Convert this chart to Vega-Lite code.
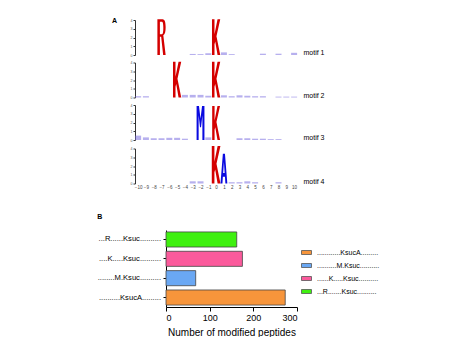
{
  "$schema": "https://vega.github.io/schema/vega-lite/v6.json",
  "padding": {"left": 96, "top": 17, "right": 0, "bottom": 0},
  "config": {"font": "Liberation Sans", "view": {"stroke": null}},
  "datasets": {
    "logo": [
      {"motif": "motif 1", "kind": "letter", "pos": -7, "bits": 4.1, "letter": "R"},
      {"motif": "motif 1", "kind": "letter", "pos": 0, "bits": 4.1, "letter": "K"},
      {"motif": "motif 1", "kind": "noise", "pos": -3, "bits": 0.12},
      {"motif": "motif 1", "kind": "noise", "pos": -2, "bits": 0.1},
      {"motif": "motif 1", "kind": "noise", "pos": -1, "bits": 0.2},
      {"motif": "motif 1", "kind": "noise", "pos": 1, "bits": 0.3},
      {"motif": "motif 1", "kind": "noise", "pos": 2, "bits": 0.1},
      {"motif": "motif 1", "kind": "noise", "pos": 6, "bits": 0.15},
      {"motif": "motif 1", "kind": "noise", "pos": 8, "bits": 0.15},
      {"motif": "motif 1", "kind": "noise", "pos": 10, "bits": 0.25},
      {"motif": "motif 1", "kind": "label", "pos": 11.2, "bits": 0},
      {"motif": "motif 2", "kind": "letter", "pos": -5, "bits": 4.1, "letter": "K"},
      {"motif": "motif 2", "kind": "letter", "pos": 0, "bits": 4.1, "letter": "K"},
      {"motif": "motif 2", "kind": "noise", "pos": -10, "bits": 0.15},
      {"motif": "motif 2", "kind": "noise", "pos": -9, "bits": 0.15},
      {"motif": "motif 2", "kind": "noise", "pos": -4, "bits": 0.3},
      {"motif": "motif 2", "kind": "noise", "pos": -3, "bits": 0.3},
      {"motif": "motif 2", "kind": "noise", "pos": -2, "bits": 0.3},
      {"motif": "motif 2", "kind": "noise", "pos": -1, "bits": 0.2},
      {"motif": "motif 2", "kind": "noise", "pos": 1, "bits": 0.25},
      {"motif": "motif 2", "kind": "noise", "pos": 2, "bits": 0.15},
      {"motif": "motif 2", "kind": "noise", "pos": 3, "bits": 0.25},
      {"motif": "motif 2", "kind": "noise", "pos": 4, "bits": 0.2},
      {"motif": "motif 2", "kind": "noise", "pos": 5, "bits": 0.15},
      {"motif": "motif 2", "kind": "noise", "pos": 6, "bits": 0.15},
      {"motif": "motif 2", "kind": "noise", "pos": 8, "bits": 0.1},
      {"motif": "motif 2", "kind": "noise", "pos": 9, "bits": 0.1},
      {"motif": "motif 2", "kind": "noise", "pos": 10, "bits": 0.1},
      {"motif": "motif 2", "kind": "label", "pos": 11.2, "bits": 0},
      {"motif": "motif 3", "kind": "letter", "pos": -2, "bits": 3.9, "letter": "M"},
      {"motif": "motif 3", "kind": "letter", "pos": 0, "bits": 3.9, "letter": "K"},
      {"motif": "motif 3", "kind": "noise", "pos": -10, "bits": 0.5},
      {"motif": "motif 3", "kind": "noise", "pos": -9, "bits": 0.3},
      {"motif": "motif 3", "kind": "noise", "pos": -8, "bits": 0.2},
      {"motif": "motif 3", "kind": "noise", "pos": -7, "bits": 0.2},
      {"motif": "motif 3", "kind": "noise", "pos": -6, "bits": 0.25},
      {"motif": "motif 3", "kind": "noise", "pos": -5, "bits": 0.25},
      {"motif": "motif 3", "kind": "noise", "pos": -4, "bits": 0.15},
      {"motif": "motif 3", "kind": "noise", "pos": -1, "bits": 0.3},
      {"motif": "motif 3", "kind": "noise", "pos": 3, "bits": 0.2},
      {"motif": "motif 3", "kind": "noise", "pos": 4, "bits": 0.2},
      {"motif": "motif 3", "kind": "noise", "pos": 5, "bits": 0.15},
      {"motif": "motif 3", "kind": "noise", "pos": 6, "bits": 0.15},
      {"motif": "motif 3", "kind": "noise", "pos": 7, "bits": 0.1},
      {"motif": "motif 3", "kind": "noise", "pos": 8, "bits": 0.1},
      {"motif": "motif 3", "kind": "label", "pos": 11.2, "bits": 0},
      {"motif": "motif 4", "kind": "letter", "pos": 0, "bits": 4.3, "letter": "K"},
      {"motif": "motif 4", "kind": "letter", "pos": 1, "bits": 3.4, "letter": "A"},
      {"motif": "motif 4", "kind": "noise", "pos": -3, "bits": 0.25},
      {"motif": "motif 4", "kind": "noise", "pos": -2, "bits": 0.25},
      {"motif": "motif 4", "kind": "noise", "pos": 2, "bits": 0.15},
      {"motif": "motif 4", "kind": "noise", "pos": 3, "bits": 0.15},
      {"motif": "motif 4", "kind": "noise", "pos": 4, "bits": 0.25},
      {"motif": "motif 4", "kind": "noise", "pos": 5, "bits": 0.15},
      {"motif": "motif 4", "kind": "noise", "pos": 8, "bits": 0.15},
      {"motif": "motif 4", "kind": "label", "pos": 11.2, "bits": 0}
    ],
    "bars": [
      {"label": "...R......Ksuc..........", "legend": "...R.......Ksuc..........", "count": 162},
      {"label": "....K.....Ksuc..........", "legend": "......K.....Ksuc..........", "count": 175},
      {"label": "........M.Ksuc..........", "legend": "..........M.Ksuc..........", "count": 68},
      {"label": "..........KsucA.........", "legend": "............KsucA.........", "count": 273}
    ]
  },
  "concat": [
    {
      "spacing": 3.5,
      "resolve": {"scale": {"color": "independent", "shape": "independent", "size": "independent"}},
      "vconcat": [
        {
          "title": {"text": "A", "anchor": "start", "frame": "group", "dx": 16, "offset": -6, "fontSize": 7, "fontWeight": "bold"},
          "width": 207, "height": 35,
          "data": {"name": "logo"},
          "transform": [{"filter": "datum.motif === 'motif 1'"}],
          "encoding": {
            "x": {"field": "pos", "type": "quantitative", "scale": {"domain": [-14.76, 10.5], "nice": false, "zero": false}, "axis": null},
            "y": {"field": "bits", "type": "quantitative", "scale": {"domain": [0, 4], "nice": false}, "axis": {"values": [0, 1, 2, 3, 4], "offset": -39, "title": null, "grid": false, "labelFontSize": 3.5, "labelColor": "#555", "tickSize": 2, "tickColor": "#333", "domainColor": "#333", "labelPadding": 1, "labelFlush": false, "labelOverlap": false}}
          },
          "layer": [
            {"transform": [{"filter": "datum.kind === 'noise'"}], "mark": {"type": "bar", "width": 6, "color": "#7b6fe0", "opacity": 0.55}},
            {"transform": [{"filter": "datum.kind === 'letter'"}], "mark": {"type": "point", "filled": true, "opacity": 1, "strokeWidth": 0},
             "encoding": {
               "y": {"datum": 0},
               "shape": {"field": "letter", "type": "nominal", "legend": null, "scale": {"domain": ["R", "K", "M", "A"], "range": ["M-0.23,0L-0.23,-2L0.06,-2C0.19,-2,0.23,-1.8,0.23,-1.55C0.23,-1.3,0.19,-1.15,0.1,-1.1L0.23,0L0.09,0L-0.02,-1.02L-0.09,-1.02L-0.09,0ZM-0.09,-1.86L-0.09,-1.16L0.03,-1.16C0.08,-1.16,0.1,-1.3,0.1,-1.51C0.1,-1.72,0.08,-1.86,0.03,-1.86Z", "M-0.23,0L-0.23,-2L-0.09,-2L-0.09,-1.15L0.08,-2L0.23,-2L0.02,-1.05L0.23,0L0.08,0L-0.05,-0.75L-0.09,-0.6L-0.09,0Z", "M-0.23,0L-0.23,-2L-0.09,-2L0,-1.25L0.09,-2L0.23,-2L0.23,0L0.11,0L0.11,-1.45L0.03,-0.75L-0.03,-0.75L-0.11,-1.45L-0.11,0Z", "M-0.23,0L-0.07,-2L0.07,-2L0.23,0L0.1,0L0.07,-0.45L-0.07,-0.45L-0.1,0ZM-0.05,-0.7L0.05,-0.7L0,-1.45Z"]}},
               "size": {"field": "bits", "type": "quantitative", "legend": null, "scale": {"type": "pow", "exponent": 2, "domain": [0, 4], "range": [0, 1225]}},
               "color": {"field": "letter", "type": "nominal", "legend": null, "scale": {"domain": ["R", "K", "M", "A"], "range": ["#d40000", "#d40000", "#0a0ae0", "#0a0ae0"]}}
             }},
            {"transform": [{"filter": "datum.kind === 'label'"}], "mark": {"type": "text", "align": "left", "baseline": "alphabetic", "fontSize": 7, "fill": "#000"},
             "encoding": {"text": {"field": "motif"}}}
          ]
        },
        {
          "width": 207, "height": 35,
          "data": {"name": "logo"},
          "transform": [{"filter": "datum.motif === 'motif 2'"}],
          "encoding": {
            "x": {"field": "pos", "type": "quantitative", "scale": {"domain": [-14.76, 10.5], "nice": false, "zero": false}, "axis": null},
            "y": {"field": "bits", "type": "quantitative", "scale": {"domain": [0, 4], "nice": false}, "axis": {"values": [0, 1, 2, 3, 4], "offset": -39, "title": null, "grid": false, "labelFontSize": 3.5, "labelColor": "#555", "tickSize": 2, "tickColor": "#333", "domainColor": "#333", "labelPadding": 1, "labelFlush": false, "labelOverlap": false}}
          },
          "layer": [
            {"transform": [{"filter": "datum.kind === 'noise'"}], "mark": {"type": "bar", "width": 6, "color": "#7b6fe0", "opacity": 0.55}},
            {"transform": [{"filter": "datum.kind === 'letter'"}], "mark": {"type": "point", "filled": true, "opacity": 1, "strokeWidth": 0},
             "encoding": {
               "y": {"datum": 0},
               "shape": {"field": "letter", "type": "nominal", "legend": null, "scale": {"domain": ["R", "K", "M", "A"], "range": ["M-0.23,0L-0.23,-2L0.06,-2C0.19,-2,0.23,-1.8,0.23,-1.55C0.23,-1.3,0.19,-1.15,0.1,-1.1L0.23,0L0.09,0L-0.02,-1.02L-0.09,-1.02L-0.09,0ZM-0.09,-1.86L-0.09,-1.16L0.03,-1.16C0.08,-1.16,0.1,-1.3,0.1,-1.51C0.1,-1.72,0.08,-1.86,0.03,-1.86Z", "M-0.23,0L-0.23,-2L-0.09,-2L-0.09,-1.15L0.08,-2L0.23,-2L0.02,-1.05L0.23,0L0.08,0L-0.05,-0.75L-0.09,-0.6L-0.09,0Z", "M-0.23,0L-0.23,-2L-0.09,-2L0,-1.25L0.09,-2L0.23,-2L0.23,0L0.11,0L0.11,-1.45L0.03,-0.75L-0.03,-0.75L-0.11,-1.45L-0.11,0Z", "M-0.23,0L-0.07,-2L0.07,-2L0.23,0L0.1,0L0.07,-0.45L-0.07,-0.45L-0.1,0ZM-0.05,-0.7L0.05,-0.7L0,-1.45Z"]}},
               "size": {"field": "bits", "type": "quantitative", "legend": null, "scale": {"type": "pow", "exponent": 2, "domain": [0, 4], "range": [0, 1225]}},
               "color": {"field": "letter", "type": "nominal", "legend": null, "scale": {"domain": ["R", "K", "M", "A"], "range": ["#d40000", "#d40000", "#0a0ae0", "#0a0ae0"]}}
             }},
            {"transform": [{"filter": "datum.kind === 'label'"}], "mark": {"type": "text", "align": "left", "baseline": "alphabetic", "fontSize": 7, "fill": "#000"},
             "encoding": {"text": {"field": "motif"}}}
          ]
        },
        {
          "width": 207, "height": 35,
          "data": {"name": "logo"},
          "transform": [{"filter": "datum.motif === 'motif 3'"}],
          "encoding": {
            "x": {"field": "pos", "type": "quantitative", "scale": {"domain": [-14.76, 10.5], "nice": false, "zero": false}, "axis": null},
            "y": {"field": "bits", "type": "quantitative", "scale": {"domain": [0, 4], "nice": false}, "axis": {"values": [0, 1, 2, 3, 4], "offset": -39, "title": null, "grid": false, "labelFontSize": 3.5, "labelColor": "#555", "tickSize": 2, "tickColor": "#333", "domainColor": "#333", "labelPadding": 1, "labelFlush": false, "labelOverlap": false}}
          },
          "layer": [
            {"transform": [{"filter": "datum.kind === 'noise'"}], "mark": {"type": "bar", "width": 6, "color": "#7b6fe0", "opacity": 0.55}},
            {"transform": [{"filter": "datum.kind === 'letter'"}], "mark": {"type": "point", "filled": true, "opacity": 1, "strokeWidth": 0},
             "encoding": {
               "y": {"datum": 0},
               "shape": {"field": "letter", "type": "nominal", "legend": null, "scale": {"domain": ["R", "K", "M", "A"], "range": ["M-0.23,0L-0.23,-2L0.06,-2C0.19,-2,0.23,-1.8,0.23,-1.55C0.23,-1.3,0.19,-1.15,0.1,-1.1L0.23,0L0.09,0L-0.02,-1.02L-0.09,-1.02L-0.09,0ZM-0.09,-1.86L-0.09,-1.16L0.03,-1.16C0.08,-1.16,0.1,-1.3,0.1,-1.51C0.1,-1.72,0.08,-1.86,0.03,-1.86Z", "M-0.23,0L-0.23,-2L-0.09,-2L-0.09,-1.15L0.08,-2L0.23,-2L0.02,-1.05L0.23,0L0.08,0L-0.05,-0.75L-0.09,-0.6L-0.09,0Z", "M-0.23,0L-0.23,-2L-0.09,-2L0,-1.25L0.09,-2L0.23,-2L0.23,0L0.11,0L0.11,-1.45L0.03,-0.75L-0.03,-0.75L-0.11,-1.45L-0.11,0Z", "M-0.23,0L-0.07,-2L0.07,-2L0.23,0L0.1,0L0.07,-0.45L-0.07,-0.45L-0.1,0ZM-0.05,-0.7L0.05,-0.7L0,-1.45Z"]}},
               "size": {"field": "bits", "type": "quantitative", "legend": null, "scale": {"type": "pow", "exponent": 2, "domain": [0, 4], "range": [0, 1225]}},
               "color": {"field": "letter", "type": "nominal", "legend": null, "scale": {"domain": ["R", "K", "M", "A"], "range": ["#d40000", "#d40000", "#0a0ae0", "#0a0ae0"]}}
             }},
            {"transform": [{"filter": "datum.kind === 'label'"}], "mark": {"type": "text", "align": "left", "baseline": "alphabetic", "fontSize": 7, "fill": "#000"},
             "encoding": {"text": {"field": "motif"}}}
          ]
        },
        {
          "width": 207, "height": 35,
          "data": {"name": "logo"},
          "transform": [{"filter": "datum.motif === 'motif 4'"}],
          "encoding": {
            "x": {"field": "pos", "type": "quantitative", "scale": {"domain": [-14.76, 10.5], "nice": false, "zero": false}, "axis": {"values": [-10, -9, -8, -7, -6, -5, -4, -3, -2, -1, 0, 1, 2, 3, 4, 5, 6, 7, 8, 9, 10], "title": null, "grid": false, "domain": false, "ticks": false, "labelFontSize": 4.5, "labelPadding": 1, "labelColor": "#444", "labelOverlap": false, "labelFlush": false}},
            "y": {"field": "bits", "type": "quantitative", "scale": {"domain": [0, 4], "nice": false}, "axis": {"values": [0, 1, 2, 3, 4], "offset": -39, "title": null, "grid": false, "labelFontSize": 3.5, "labelColor": "#555", "tickSize": 2, "tickColor": "#333", "domainColor": "#333", "labelPadding": 1, "labelFlush": false, "labelOverlap": false}}
          },
          "layer": [
            {"transform": [{"filter": "datum.kind === 'noise'"}], "mark": {"type": "bar", "width": 6, "color": "#7b6fe0", "opacity": 0.55}},
            {"transform": [{"filter": "datum.kind === 'letter'"}], "mark": {"type": "point", "filled": true, "opacity": 1, "strokeWidth": 0},
             "encoding": {
               "y": {"datum": 0},
               "shape": {"field": "letter", "type": "nominal", "legend": null, "scale": {"domain": ["R", "K", "M", "A"], "range": ["M-0.23,0L-0.23,-2L0.06,-2C0.19,-2,0.23,-1.8,0.23,-1.55C0.23,-1.3,0.19,-1.15,0.1,-1.1L0.23,0L0.09,0L-0.02,-1.02L-0.09,-1.02L-0.09,0ZM-0.09,-1.86L-0.09,-1.16L0.03,-1.16C0.08,-1.16,0.1,-1.3,0.1,-1.51C0.1,-1.72,0.08,-1.86,0.03,-1.86Z", "M-0.23,0L-0.23,-2L-0.09,-2L-0.09,-1.15L0.08,-2L0.23,-2L0.02,-1.05L0.23,0L0.08,0L-0.05,-0.75L-0.09,-0.6L-0.09,0Z", "M-0.23,0L-0.23,-2L-0.09,-2L0,-1.25L0.09,-2L0.23,-2L0.23,0L0.11,0L0.11,-1.45L0.03,-0.75L-0.03,-0.75L-0.11,-1.45L-0.11,0Z", "M-0.23,0L-0.07,-2L0.07,-2L0.23,0L0.1,0L0.07,-0.45L-0.07,-0.45L-0.1,0ZM-0.05,-0.7L0.05,-0.7L0,-1.45Z"]}},
               "size": {"field": "bits", "type": "quantitative", "legend": null, "scale": {"type": "pow", "exponent": 2, "domain": [0, 4], "range": [0, 1225]}},
               "color": {"field": "letter", "type": "nominal", "legend": null, "scale": {"domain": ["R", "K", "M", "A"], "range": ["#d40000", "#d40000", "#0a0ae0", "#0a0ae0"]}}
             }},
            {"transform": [{"filter": "datum.kind === 'label'"}], "mark": {"type": "text", "align": "left", "baseline": "alphabetic", "fontSize": 7, "fill": "#000"},
             "encoding": {"text": {"field": "motif"}}}
          ]
        }
      ]
    },
    {
      "spacing": 0,
      "resolve": {"scale": {"color": "independent", "x": "independent", "y": "independent"}},
      "hconcat": [
        {"width": 1, "height": 1, "data": {"values": []}, "mark": "point"},
        {
          "width": 131, "height": 77,
          "title": {"text": "B", "anchor": "start", "frame": "bounds", "offset": 10, "fontSize": 7, "fontWeight": "bold"},
          "data": {"name": "bars"},
          "mark": {"type": "bar", "stroke": "#444", "strokeWidth": 0.8},
          "encoding": {
            "y": {"field": "label", "type": "nominal", "sort": ["...R......Ksuc..........", "....K.....Ksuc..........", "........M.Ksuc..........", "..........KsucA........."], "scale": {"paddingInner": 0.22, "paddingOuter": 0.1}, "axis": {"title": null, "labelFontSize": 7.6, "labelColor": "#000", "tickSize": 3, "tickColor": "#000", "domainColor": "#000", "labelPadding": 2.5}},
            "x": {"field": "count", "type": "quantitative", "scale": {"domain": [0, 300], "nice": false}, "axis": {"values": [0, 100, 200, 300], "title": "Number of modified peptides", "titleFontSize": 10, "titleFontWeight": "normal", "titleColor": "#000", "labelFontSize": 9, "labelColor": "#000", "tickColor": "#000", "tickSize": 4, "domainColor": "#000", "grid": false, "labelPadding": 2, "titlePadding": 5}},
            "color": {"field": "legend", "type": "nominal", "scale": {"domain": ["............KsucA.........", "..........M.Ksuc..........", "......K.....Ksuc..........", "...R.......Ksuc.........."], "range": ["#f7953b", "#6aa8f4", "#fb5a9c", "#3ff010"]},
              "legend": {"title": null, "orient": "none", "legendX": 135, "legendY": 17, "padding": 0, "symbolType": "M-1,-0.4L1,-0.4L1,0.4L-1,0.4Z", "symbolSize": 100, "symbolStrokeColor": "#555", "symbolStrokeWidth": 0.8, "symbolOpacity": 1, "labelFontSize": 7, "labelColor": "#000", "labelOffset": 5, "rowPadding": 3}}
          }
        }
      ]
    }
  ],
  "columns": 1,
  "spacing": 24,
  "resolve": {"scale": {"color": "independent", "shape": "independent", "size": "independent", "x": "independent", "y": "independent"}}
}
